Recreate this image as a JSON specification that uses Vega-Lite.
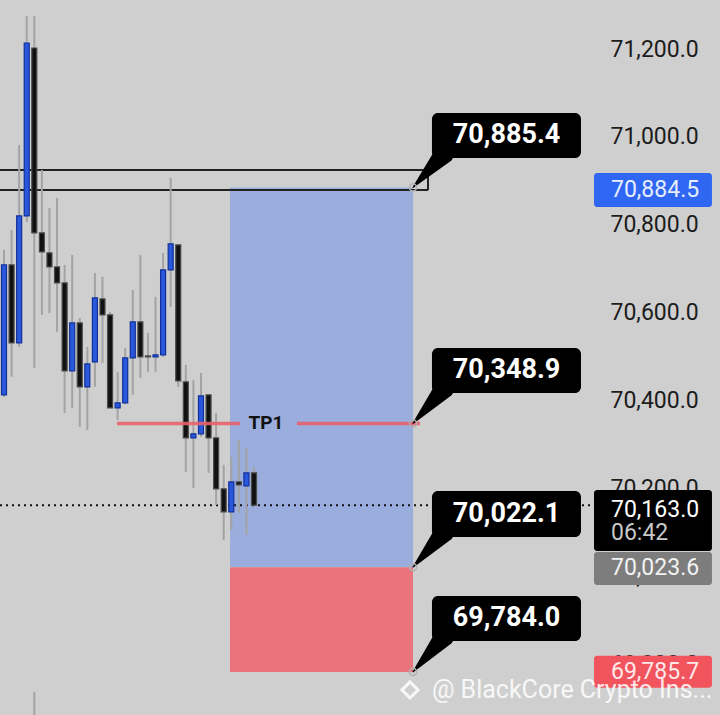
{
  "$schema": "https://vega.github.io/schema/vega-lite/v6.json",
  "description": "BTC candles with long position zone, TP1 line and price callouts.",
  "width": 720,
  "height": 715,
  "padding": 0,
  "autosize": {"type": "none"},
  "background": "#cfcfcf",
  "config": {"view": {"stroke": null}},
  "datasets": {
    "candles": [
      {"i": 0, "o": 70413.6, "h": 70743.2, "l": 70409.1, "c": 70709.1},
      {"i": 1, "o": 70709.1, "h": 70788.6, "l": 70454.6, "c": 70531.8},
      {"i": 2, "o": 70531.8, "h": 70981.8, "l": 70522.7, "c": 70820.5},
      {"i": 3, "o": 70820.5, "h": 71275.0, "l": 70806.8, "c": 71213.7},
      {"i": 4, "o": 71202.3, "h": 71275.0, "l": 70475.0, "c": 70781.8},
      {"i": 5, "o": 70781.8, "h": 70925.0, "l": 70595.5, "c": 70738.7},
      {"i": 6, "o": 70736.4, "h": 70838.6, "l": 70600.0, "c": 70704.5},
      {"i": 7, "o": 70704.5, "h": 70861.4, "l": 70556.8, "c": 70668.2},
      {"i": 8, "o": 70668.2, "h": 70709.1, "l": 70372.7, "c": 70468.2},
      {"i": 9, "o": 70468.2, "h": 70731.8, "l": 70384.1, "c": 70577.3},
      {"i": 10, "o": 70577.3, "h": 70588.6, "l": 70340.9, "c": 70431.8},
      {"i": 11, "o": 70431.8, "h": 70522.7, "l": 70334.1, "c": 70484.1},
      {"i": 12, "o": 70488.6, "h": 70691.0, "l": 70431.8, "c": 70634.1},
      {"i": 13, "o": 70631.8, "h": 70681.9, "l": 70486.4, "c": 70595.5},
      {"i": 14, "o": 70595.5, "h": 70602.3, "l": 70384.1, "c": 70384.1},
      {"i": 15, "o": 70384.1, "h": 70466.0, "l": 70356.8, "c": 70395.5},
      {"i": 16, "o": 70395.5, "h": 70520.5, "l": 70392.0, "c": 70497.7},
      {"i": 17, "o": 70497.7, "h": 70652.3, "l": 70413.6, "c": 70579.5},
      {"i": 18, "o": 70579.5, "h": 70731.8, "l": 70452.3, "c": 70500.0},
      {"i": 19, "o": 70502.3, "h": 70554.6, "l": 70466.0, "c": 70500.0},
      {"i": 20, "o": 70500.0, "h": 70636.4, "l": 70466.0, "c": 70504.6},
      {"i": 21, "o": 70504.6, "h": 70736.4, "l": 70500.0, "c": 70697.7},
      {"i": 22, "o": 70697.7, "h": 70906.8, "l": 70613.6, "c": 70756.8},
      {"i": 23, "o": 70754.6, "h": 70754.6, "l": 70431.8, "c": 70445.5},
      {"i": 24, "o": 70443.2, "h": 70481.8, "l": 70238.6, "c": 70315.9},
      {"i": 25, "o": 70315.9, "h": 70447.7, "l": 70202.3, "c": 70325.0},
      {"i": 26, "o": 70325.0, "h": 70463.7, "l": 70318.2, "c": 70411.4},
      {"i": 27, "o": 70413.6, "h": 70413.6, "l": 70236.4, "c": 70315.9},
      {"i": 28, "o": 70315.9, "h": 70372.7, "l": 70163.6, "c": 70200.0},
      {"i": 29, "o": 70200.0, "h": 70254.6, "l": 70084.1, "c": 70147.7},
      {"i": 30, "o": 70147.7, "h": 70272.7, "l": 70106.8, "c": 70215.9},
      {"i": 31, "o": 70215.9, "h": 70311.4, "l": 70145.5, "c": 70209.1},
      {"i": 32, "o": 70206.8, "h": 70293.2, "l": 70095.5, "c": 70236.4},
      {"i": 33, "o": 70236.4, "h": 70250.0, "l": 70163.0, "c": 70163.0}
    ],
    "zones": [
      {"zone": "profit", "v1": 70022.1, "v2": 70885.4},
      {"zone": "loss", "v1": 69784.0, "v2": 70022.1}
    ],
    "callouts": [
      {"label": "70,885.4", "v": 70885.4, "top": 71054.5, "bot": 70952.3, "mid": 71003.4},
      {"label": "70,348.9", "v": 70348.9, "top": 70520.5, "bot": 70418.2, "mid": 70469.4},
      {"label": "70,022.1", "v": 70022.1, "top": 70195.5, "bot": 70090.9, "mid": 70143.2},
      {"label": "69,784.0", "v": 69784.0, "top": 69956.8, "bot": 69854.5, "mid": 69905.7}
    ],
    "pointers": [
      {"g": 1, "x": 53.99, "v": 70885.4, "w": 0},
      {"g": 1, "x": 58.1, "v": 70962, "w": 1},
      {"g": 2, "x": 53.99, "v": 70348.9, "w": 0},
      {"g": 2, "x": 58.1, "v": 70428, "w": 1},
      {"g": 3, "x": 53.99, "v": 70022.1, "w": 0},
      {"g": 3, "x": 58.1, "v": 70101, "w": 1},
      {"g": 4, "x": 53.99, "v": 69784.0, "w": 0},
      {"g": 4, "x": 58.1, "v": 69864, "w": 1}
    ],
    "zonebox": [
      {"a": -0.528, "b": 55.97, "v1": 70925.0, "v2": 70925.0},
      {"a": -0.528, "b": 55.97, "v1": 70879.6, "v2": 70879.6},
      {"a": 55.97, "b": 55.97, "v1": 70879.6, "v2": 70925.0}
    ],
    "tags": [
      {"kind": "target", "top": 70918.2, "bot": 70840.9},
      {"kind": "last", "top": 70197.7, "bot": 70059.0},
      {"kind": "entry", "top": 70056.8, "bot": 69981.8},
      {"kind": "stop", "top": 69820.5, "bot": 69747.7}
    ],
    "tagtext": [
      {"kind": "target", "t": "70,884.5", "v": 70879.5},
      {"kind": "last", "t": "70,163.0", "v": 70153.0},
      {"kind": "timer", "t": "06:42", "v": 70099.0},
      {"kind": "entry", "t": "70,023.6", "v": 70020.5},
      {"kind": "stop", "t": "69,785.7", "v": 69784.0}
    ]
  },
  "layer": [
    {
      "data": {"name": "zones"},
      "mark": {"type": "rect"},
      "encoding": {
        "x": {"datum": 29.83, "type": "quantitative", "scale": {"domain": [-0.528, 94.51], "nice": false, "zero": false, "padding": 0}, "axis": null},
        "x2": {"datum": 53.99},
        "y": {
          "field": "v1", "type": "quantitative",
          "scale": {"domain": [69686, 71311.4], "nice": false, "zero": false, "padding": 0},
          "title": null,
          "axis": {
            "orient": "right", "offset": -110,
            "values": [69800, 70000, 70200, 70400, 70600, 70800, 71000, 71200],
            "format": ",.1f", "domain": false, "ticks": false, "grid": false,
            "labelPadding": 0, "labelFont": "Roboto", "labelFontSize": 23,
            "labelColor": "#1c1c1c", "labelAlign": "left", "labelBaseline": "middle",
            "labelOverlap": false, "labelFlush": false, "zindex": 0
          }
        },
        "y2": {"field": "v2"},
        "color": {"field": "zone", "type": "nominal", "scale": {"domain": ["profit", "loss"], "range": ["#9aaddc", "#e9747c"]}, "legend": null}
      }
    },
    {
      "data": {"name": "zonebox"},
      "mark": {"type": "rule", "color": "#222222", "strokeWidth": 2},
      "encoding": {
        "x": {"field": "a", "type": "quantitative", "axis": null},
        "x2": {"field": "b"},
        "y": {"field": "v1", "type": "quantitative", "title": null},
        "y2": {"field": "v2"}
      }
    },
    {
      "data": {"values": [{"v": 70163.0}]},
      "mark": {"type": "rule", "color": "#111111", "strokeWidth": 2, "strokeDash": [2, 4]},
      "encoding": {
        "x": {"datum": -0.528, "type": "quantitative", "axis": null},
        "x2": {"datum": 77.88},
        "y": {"field": "v", "type": "quantitative", "title": null}
      }
    },
    {
      "data": {"name": "candles"},
      "mark": {"type": "rule", "color": "#a3a3a3", "strokeWidth": 2},
      "encoding": {
        "x": {"field": "i", "type": "quantitative", "axis": null},
        "y": {"field": "l", "type": "quantitative", "title": null},
        "y2": {"field": "h"}
      }
    },
    {
      "data": {"values": [{"i": 4, "lo": 69686, "hi": 69738}]},
      "mark": {"type": "rule", "color": "#a3a3a3", "strokeWidth": 2},
      "encoding": {
        "x": {"field": "i", "type": "quantitative", "axis": null},
        "y": {"field": "lo", "type": "quantitative", "title": null},
        "y2": {"field": "hi"}
      }
    },
    {
      "data": {"name": "candles"},
      "mark": {"type": "bar", "width": 5, "strokeWidth": 1.2},
      "encoding": {
        "x": {"field": "i", "type": "quantitative", "axis": null},
        "y": {"field": "o", "type": "quantitative", "title": null},
        "y2": {"field": "c"},
        "fill": {"condition": {"test": "datum.c > datum.o", "value": "#2a58dc"}, "value": "#111111"},
        "stroke": {"condition": {"test": "datum.c > datum.o", "value": "#12309a"}, "value": "#4a4a4a"}
      }
    },
    {
      "data": {"values": [{"a": 14.92, "b": 31.15}, {"a": 38.67, "b": 54.91}]},
      "mark": {"type": "rule", "color": "#e8606a", "strokeWidth": 3.5, "opacity": 0.9},
      "encoding": {
        "x": {"field": "a", "type": "quantitative", "axis": null},
        "x2": {"field": "b"},
        "y": {"datum": 70348.9, "type": "quantitative", "title": null}
      }
    },
    {
      "data": {"values": [{"t": "TP1"}]},
      "mark": {"type": "text", "font": "Roboto", "fontWeight": "bold", "fontSize": 19, "color": "#111111", "align": "center", "baseline": "middle"},
      "encoding": {
        "x": {"datum": 34.58, "type": "quantitative", "axis": null},
        "y": {"datum": 70348.9, "type": "quantitative", "title": null},
        "text": {"field": "t"}
      }
    },
    {
      "data": {"name": "pointers"},
      "mark": {"type": "trail", "color": "#000000"},
      "encoding": {
        "x": {"field": "x", "type": "quantitative", "axis": null},
        "y": {"field": "v", "type": "quantitative", "title": null},
        "detail": {"field": "g", "type": "nominal"},
        "size": {"field": "w", "type": "quantitative", "scale": {"domain": [0, 1], "range": [0, 20]}, "legend": null}
      }
    },
    {
      "data": {"name": "callouts"},
      "mark": {"type": "rect", "color": "#000000", "cornerRadius": 6},
      "encoding": {
        "x": {"datum": 56.49, "type": "quantitative", "axis": null},
        "x2": {"datum": 76.16},
        "y": {"field": "top", "type": "quantitative", "title": null},
        "y2": {"field": "bot"}
      }
    },
    {
      "data": {"name": "callouts"},
      "mark": {"type": "text", "font": "Roboto", "fontWeight": "bold", "fontSize": 27, "color": "#ffffff", "align": "center", "baseline": "middle"},
      "encoding": {
        "x": {"datum": 66.33, "type": "quantitative", "axis": null},
        "y": {"field": "mid", "type": "quantitative", "title": null},
        "text": {"field": "label"}
      }
    },
    {
      "data": {"name": "callouts"},
      "mark": {"type": "point", "filled": false, "stroke": "#b0b0b0", "strokeWidth": 1.5, "size": 50, "opacity": 1},
      "encoding": {
        "x": {"datum": 53.99, "type": "quantitative", "axis": null},
        "y": {"field": "v", "type": "quantitative", "title": null}
      }
    },
    {
      "data": {"name": "tags"},
      "mark": {"type": "rect", "cornerRadius": 3},
      "encoding": {
        "x": {"datum": 77.88, "type": "quantitative", "axis": null},
        "x2": {"datum": 93.45},
        "y": {"field": "top", "type": "quantitative", "title": null},
        "y2": {"field": "bot"},
        "fill": {"field": "kind", "type": "nominal", "scale": {"domain": ["target", "last", "entry", "stop"], "range": ["#2f66f2", "#000000", "#7d7d7d", "#f2545e"]}, "legend": null}
      }
    },
    {
      "data": {"name": "tagtext"},
      "mark": {"type": "text", "font": "Roboto", "fontSize": 23, "align": "left", "baseline": "middle"},
      "encoding": {
        "x": {"datum": 80.12, "type": "quantitative", "axis": null},
        "y": {"field": "v", "type": "quantitative", "title": null},
        "text": {"field": "t"},
        "color": {"field": "kind", "type": "nominal", "scale": {"domain": ["target", "last", "timer", "entry", "stop"], "range": ["#e6eeff", "#ffffff", "#c8c8c8", "#f2f2f2", "#ffe8ea"]}, "legend": null}
      }
    },
    {
      "data": {"values": [{"v": 69743}]},
      "mark": {"type": "point", "shape": "diamond", "filled": false, "stroke": "#ffffff", "strokeWidth": 3, "size": 260, "opacity": 0.85},
      "encoding": {
        "x": {"datum": 53.59, "type": "quantitative", "axis": null},
        "y": {"field": "v", "type": "quantitative", "title": null}
      }
    },
    {
      "data": {"values": [{"t": "@ BlackCore Crypto Ins...", "v": 69743}]},
      "mark": {"type": "text", "font": "Roboto", "fontSize": 25, "color": "#ffffff", "opacity": 0.85, "align": "left", "baseline": "middle"},
      "encoding": {
        "x": {"datum": 56.49, "type": "quantitative", "axis": null},
        "y": {"field": "v", "type": "quantitative", "title": null},
        "text": {"field": "t"}
      }
    }
  ],
  "resolve": {"scale": {"color": "independent", "fill": "independent", "size": "independent"}}
}
